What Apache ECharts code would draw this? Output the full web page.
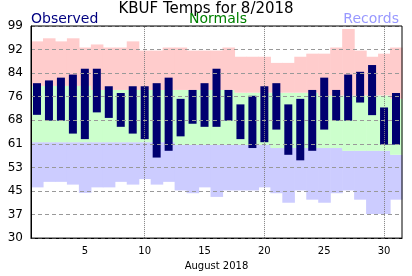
<!DOCTYPE html>
<html>
<head>
<meta charset="utf-8">
<script src="https://cdn.jsdelivr.net/npm/echarts@6/dist/echarts.min.js"></script>
<style>
  html, body { margin: 0; padding: 0; background: #fff; }
  #chart { width: 412px; height: 276px; }
</style>
</head>
<body>
<div id="chart"></div>
<script>
// days of August 2018
const days = ['1', '2', '3', '4', '5', '6', '7', '8', '9', '10', '11', '12', '13', '14', '15', '16',
  '17', '18', '19', '20', '21', '22', '23', '24', '25', '26', '27', '28', '29', '30', '31']

// records / normals (deg F)
const recordHigh = [94, 95, 94, 95, 92, 93, 92, 92, 94, 91, 91, 92, 92, 91, 91, 91,
  92, 89, 89, 89, 87, 87, 89, 90, 90, 92, 98, 91, 89, 90, 92]
const normalHigh = [79.5, 79.5, 79.5, 79.5, 79.5, 78.2, 78.2, 78.2, 78.2, 78.2, 78.2, 78.2, 78.2, 78.2, 78.2, 78.2,
  78.2, 77.3, 77.3, 77.3, 77.3, 77.3, 77.3, 77.3, 76.4, 76.4, 76.4, 76.4, 76.4, 76.4, 75.3]
const normalLow = [61.2, 61.2, 61.2, 61.2, 61.2, 61.2, 61.2, 61.2, 61.2, 61.2, 61.2, 61.2, 60.3, 60.3, 60.3, 60.3,
  60.3, 60.3, 60.3, 60.3, 59.3, 59.3, 59.3, 59.3, 59.3, 59.3, 58.4, 58.4, 58.4, 58.4, 57.1]
const recordLow = [46.5, 48.3, 48.3, 47.4, 44.7, 46.5, 46.5, 48.3, 47.4, 49.2, 47.4, 48.3, 45.5, 44.6, 46.5, 43.4,
  45.5, 45.5, 45.5, 46.5, 44.6, 41.5, 45.5, 42.5, 41.5, 44.6, 45.5, 42.5, 37.8, 37.8, 42.5]

// observed
const obsHigh = [80.4, 81.3, 82.2, 83.2, 85.1, 85.1, 79.4, 77.2, 79.4, 79.4, 80.4, 82.2, 75.3, 78.2, 80.4, 85.1,
  78.2, 73.5, 76.3, 79.4, 80.4, 73.5, 75.3, 78.2, 82.2, 78.2, 83.2, 84.1, 86.3, 72.5, 77.2]
const obsLow = [70.1, 68.2, 68.2, 64.0, 62.2, 70.9, 69.1, 66.2, 64.0, 62.2, 56.2, 58.4, 63.1, 67.2, 66.2, 66.2,
  68.2, 62.2, 59.3, 61.2, 65.3, 57.1, 55.3, 58.4, 65.3, 68.2, 68.2, 74.1, 70.0, 60.4, 60.4]

// y tick labels (9 equal steps from 30 to 99)
const yTickLabels = ['30', '37', '45', '53', '61', '68', '76', '84', '92', '99']
const dottedDays = ['10', '20', '30']

const FONT = 'DejaVu Sans'
const chart = echarts.init(document.getElementById('chart'))

const bandData = days.map((d, i) => [i, recordLow[i], normalLow[i], normalHigh[i], recordHigh[i]])

// record low -> normal low -> normal high -> record high, one column per day
function renderBands(params, api) {
  const idx = api.value(0)
  const w = api.size([1, 0])[0]
  const x = api.coord([idx, 0])[0] - w / 2
  const yRL = api.coord([idx, api.value(1)])[1]
  const yNL = api.coord([idx, api.value(2)])[1]
  const yNH = api.coord([idx, api.value(3)])[1]
  const yRH = api.coord([idx, api.value(4)])[1]
  return {
    type: 'group',
    children: [
      { type: 'rect', shape: { x: x, y: yNL, width: w + 0.6, height: yRL - yNL }, style: { fill: '#ccccff' } },
      { type: 'rect', shape: { x: x, y: yNH, width: w + 0.6, height: yNL - yNH }, style: { fill: '#ccffcc' } },
      { type: 'rect', shape: { x: x, y: yRH, width: w + 0.6, height: yNH - yRH }, style: { fill: '#ffcccc' } },
    ],
  }
}

chart.setOption({
  animation: false,
  title: [
    { text: 'KBUF Temps for 8/2018', left: 'center', top: 2, padding: 0,
      textStyle: { fontFamily: FONT, fontSize: 15, fontWeight: 'normal', color: '#000' } },
    { text: 'Observed', left: 31, top: 12, padding: 0,
      textStyle: { fontFamily: FONT, fontSize: 14, fontWeight: 'normal', color: '#000080' } },
    { text: 'Normals', left: 189, top: 12, padding: 0,
      textStyle: { fontFamily: FONT, fontSize: 14, fontWeight: 'normal', color: '#008000' } },
    { text: 'Records', right: 13, top: 12, padding: 0,
      textStyle: { fontFamily: FONT, fontSize: 14, fontWeight: 'normal', color: '#9999ff' } },
  ],
  grid: {
    left: 31, right: 10, top: 26, bottom: 30,
    show: true, borderColor: '#000', borderWidth: 1, backgroundColor: 'transparent', z: 10,
  },
  xAxis: [
    {
      type: 'category',
      data: days,
      position: 'bottom',
      boundaryGap: true,
      axisLine: { lineStyle: { color: '#000', width: 1 } },
      axisTick: { alignWithLabel: true, interval: 0, length: 3, lineStyle: { color: '#000' } },
      axisLabel: {
        interval: (i) => (i + 1) % 5 === 0,
        fontFamily: FONT, fontSize: 10, color: '#000', margin: 8,
      },
      splitLine: { show: false },
      name: 'August 2018',
      nameLocation: 'middle',
      nameGap: 16,
      nameTextStyle: { fontFamily: FONT, fontSize: 10, color: '#000' },
    },
    {
      // longer ticks every 5 days
      type: 'category',
      data: days,
      position: 'bottom',
      boundaryGap: true,
      axisLine: { show: false },
      axisTick: { alignWithLabel: true, interval: (i) => (i + 1) % 5 === 0, length: 7, lineStyle: { color: '#000' } },
      axisLabel: { show: false },
      splitLine: { show: false },
    },
  ],
  yAxis: [
    { type: 'value', min: 30, max: 99, show: false },
    {
      // label / grid axis: 9 equal steps
      type: 'value',
      min: 0,
      max: 9,
      interval: 1,
      position: 'left',
      z: 5,
      axisLine: { show: true, lineStyle: { color: '#000' } },
      axisTick: { show: false },
      axisLabel: {
        formatter: (v) => yTickLabels[Math.round(v)],
        fontFamily: FONT, fontSize: 12, color: '#000', margin: 8,
      },
      splitLine: { show: true, lineStyle: { color: '#999', type: [4, 3], width: 1 } },
    },
  ],
  series: [
    {
      name: 'Bands',
      type: 'custom',
      xAxisIndex: 0,
      yAxisIndex: 0,
      renderItem: renderBands,
      encode: { x: 0, y: [1, 2, 3, 4] },
      data: bandData,
      silent: true,
    },
    {
      name: 'base',
      type: 'bar',
      stack: 'obs',
      xAxisIndex: 1,
      yAxisIndex: 0,
      barWidth: 8,
      itemStyle: { color: 'transparent' },
      data: obsLow,
      silent: true,
    },
    {
      name: 'Observed',
      type: 'bar',
      stack: 'obs',
      xAxisIndex: 1,
      yAxisIndex: 0,
      barWidth: 8,
      itemStyle: { color: '#000070' },
      data: obsHigh.map((h, i) => +(h - obsLow[i]).toFixed(1)),
    },
    {
      name: 'dotted',
      type: 'line',
      xAxisIndex: 0,
      yAxisIndex: 0,
      z: 6,
      data: [],
      markLine: {
        silent: true,
        symbol: 'none',
        label: { show: false },
        lineStyle: { type: [1, 1], color: '#808080', width: 1 },
        data: dottedDays.map((d) => ({ xAxis: d })),
      },
    },
  ],
})
</script>
</body>
</html>
